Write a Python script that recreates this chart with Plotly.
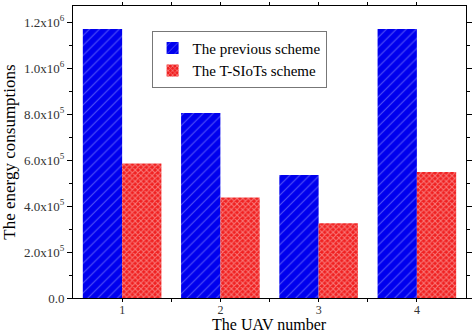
import plotly.graph_objects as go

uav = [1, 2, 3, 4]
previous_scheme = [1.17e6, 8.05e5, 5.35e5, 1.17e6]
tsiots_scheme = [5.85e5, 4.37e5, 3.25e5, 5.48e5]

y_ticks = [0, 2e5, 4e5, 6e5, 8e5, 1.0e6, 1.2e6]
y_ticktext = ["0.0", "2.0x10<sup>5</sup>", "4.0x10<sup>5</sup>", "6.0x10<sup>5</sup>",
              "8.0x10<sup>5</sup>", "1.0x10<sup>6</sup>", "1.2x10<sup>6</sup>"]

serif = "Liberation Serif, Times New Roman, serif"

fig = go.Figure()
fig.add_trace(go.Bar(
    x=uav, y=previous_scheme, name="The previous scheme",
    marker=dict(color="#0000ee", line=dict(width=0),
                pattern=dict(shape="/", fgcolor="#a8a8ff", bgcolor="#0000ee",
                             size=7, solidity=0.15)),
))
fig.add_trace(go.Bar(
    x=uav, y=tsiots_scheme, name="The T-SIoTs scheme",
    marker=dict(color="#f02020", line=dict(width=0),
                pattern=dict(shape="x", fgcolor="#ffd0d0", bgcolor="#f02020",
                             size=4, solidity=0.45)),
))

axis_common = dict(showline=True, linecolor="black", linewidth=1, mirror="allticks",
                   ticks="outside", ticklen=5, tickcolor="black", showgrid=False,
                   zeroline=False, tickfont=dict(family=serif, size=13, color="#333"))

fig.update_layout(
    width=474, height=334,
    margin=dict(l=73, r=3, t=2, b=36),
    paper_bgcolor="white", plot_bgcolor="white",
    barmode="group", bargap=0.2, bargroupgap=0,
    font=dict(family=serif, color="black"),
    xaxis=dict(**axis_common, range=[0.5, 4.5], tickvals=uav,
               minor=dict(tickvals=[1.5, 2.5, 3.5], ticks="outside", ticklen=3,
                          tickcolor="black")),
    yaxis=dict(**axis_common, range=[0, 1.27e6], tickvals=y_ticks, ticktext=y_ticktext,
               minor=dict(dtick=1e5, ticks="outside", ticklen=3, tickcolor="black"),
               title=dict(text="The energy consumptions", font=dict(family=serif, size=17),
                          standoff=4)),
    legend=dict(x=0.2, y=0.915, xanchor="left", yanchor="top",
                bordercolor="#777", borderwidth=1, bgcolor="white",
                font=dict(family=serif, size=15), tracegroupgap=0,
                itemsizing="constant"),
    showlegend=True,
)
fig.update_xaxes(ticklen=3, ticklabelstandoff=-2,
                 tickfont=dict(family=serif, size=12, color="#333"))

# x-axis title sits at the bottom edge of the figure, just under the tick labels
fig.add_annotation(text="The UAV number", xref="paper", yref="paper", x=0.5, y=0,
                   xanchor="center", yanchor="bottom", yshift=-36, showarrow=False,
                   borderpad=0, font=dict(family=serif, size=16, color="black"))

fig.write_html("out.html")
